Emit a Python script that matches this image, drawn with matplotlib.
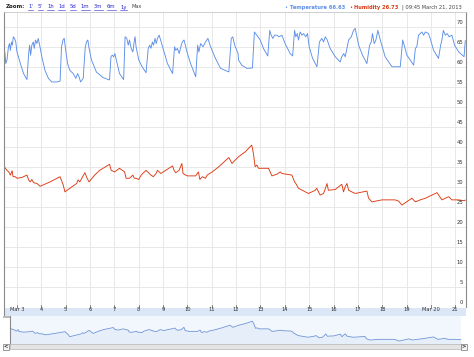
import matplotlib
matplotlib.use("Agg")
import matplotlib.pyplot as plt
from matplotlib.patches import Rectangle
from matplotlib.transforms import blended_transform_factory

# x values are days counted from Mar 3 00:00
temp_days = [-0.57, -0.54, -0.50, -0.46, -0.41, -0.35, -0.31, -0.27, -0.23, -0.19, -0.15, -0.10, -0.05,
             0.00, 0.14, 0.27, 0.41, 0.48, 0.52, 0.56, 0.61, 0.67, 0.71, 0.76, 0.82, 0.87, 0.92,
             1.02, 1.15, 1.29, 1.43, 1.63, 1.77, 1.83, 1.89, 1.94, 2.00, 2.08, 2.17, 2.31, 2.42,
             2.49, 2.55, 2.61, 2.72, 2.80, 2.85, 2.91, 2.96, 3.06, 3.26, 3.53, 3.80, 3.86, 3.91,
             3.97, 4.02, 4.08, 4.21, 4.38, 4.44, 4.51, 4.57, 4.62, 4.69, 4.76, 4.81, 4.85, 4.89,
             5.00, 5.14, 5.30, 5.39, 5.45, 5.50, 5.56, 5.61, 5.67, 5.72, 5.77, 5.84, 5.98, 6.18,
             6.39, 6.47, 6.52, 6.59, 6.66, 6.73, 6.79, 6.86, 6.93, 7.00, 7.13, 7.34, 7.42, 7.47,
             7.54, 7.64, 7.74, 7.84, 7.95, 8.15, 8.36, 8.70, 8.80, 8.86, 8.94, 9.08,
             9.10, 9.23, 9.44, 9.67, 9.75, 9.85, 9.99, 10.12, 10.30, 10.38, 10.44, 10.51, 10.58,
             10.67, 10.77, 10.88, 11.01, 11.22, 11.32, 11.40, 11.45, 11.51, 11.56, 11.63, 11.70,
             11.77, 11.86, 11.93, 12.00, 12.14, 12.32, 12.42, 12.52, 12.59, 12.66, 12.74, 12.86,
             13.07, 13.27, 13.34, 13.42, 13.48, 13.62, 13.73, 13.82, 13.89, 14.03, 14.19, 14.37,
             14.48, 14.55, 14.60, 14.67, 14.74, 14.82, 14.92, 15.12, 15.40, 15.74, 15.84, 15.92,
             16.01, 16.15, 16.29, 16.36, 16.42, 16.49, 16.56, 16.63, 16.70, 16.77, 16.90, 16.97,
             17.11, 17.31, 17.40, 17.45, 17.51, 17.59, 17.67, 17.75, 17.86, 17.97, 18.14, 18.36, 18.41]
temp_vals = [59.2, 63.4, 63.8, 60.9, 61.8, 65.1, 65.9, 64.2, 66.3, 65.5, 67.6, 67.2, 66.3,
             63.8, 60.9, 58.4, 56.9, 63.4, 65.5, 63.0, 65.5, 66.3, 64.7, 66.8, 65.9, 67.2, 65.9,
             62.6, 59.2, 57.2, 56.3, 56.3, 56.5, 65.1, 66.8, 67.2, 64.2, 60.9, 59.2, 58.4, 57.2,
             58.4, 57.6, 56.3, 57.2, 64.7, 66.3, 66.8, 64.7, 61.8, 58.8, 57.4, 56.8, 62.6, 63.0,
             62.6, 63.4, 61.8, 58.4, 56.9, 67.6, 67.2, 65.5, 66.8, 64.7, 63.8, 66.3, 67.6, 65.1,
             61.8, 60.1, 58.6, 64.7, 65.5, 64.7, 66.3, 65.5, 67.2, 65.9, 67.2, 68.0, 65.1, 60.9,
             58.4, 65.1, 64.2, 64.7, 63.4, 65.1, 66.3, 66.8, 65.1, 63.4, 60.9, 57.6, 65.5, 63.8,
             65.9, 65.1, 66.3, 67.2, 65.1, 62.2, 59.7, 58.8, 67.2, 67.6, 65.5, 63.4,
             61.8, 60.5, 59.7, 59.8, 68.8, 68.0, 66.8, 64.7, 62.8, 69.2, 68.0, 67.2, 68.0,
             68.0, 67.6, 68.0, 65.9, 63.4, 62.8, 69.2, 67.6, 68.4, 66.8, 68.8, 68.0,
             68.4, 67.6, 68.4, 65.1, 62.2, 60.1, 66.3, 67.2, 66.3, 67.6, 66.8, 64.7,
             62.6, 61.3, 62.6, 63.4, 62.6, 66.8, 67.6, 69.2, 69.7, 65.5, 63.0, 60.9,
             65.5, 66.3, 68.4, 65.9, 66.8, 69.2, 66.8, 62.6, 60.1, 60.1, 66.8, 65.1,
             63.0, 61.8, 60.5, 64.7, 65.1, 68.0, 68.4, 68.8, 68.0, 68.8, 68.4, 67.2,
             64.2, 62.2, 65.5, 66.8, 69.2, 68.0, 68.4, 67.6, 68.0, 65.5, 63.8, 62.6, 66.63]

humid_days = [-0.54, -0.48, -0.41, -0.34, -0.27, -0.20, -0.16, -0.07, 0.00, 0.20, 0.41, 0.48, 0.54,
              0.61, 0.68, 0.82, 0.95, 1.36, 1.77, 1.90, 1.97, 2.17, 2.45, 2.51, 2.58, 2.79, 2.88,
              2.96, 3.19, 3.40, 3.67, 3.80, 3.87, 4.01, 4.21, 4.42, 4.48, 4.62, 4.76, 4.82, 4.89,
              5.00, 5.10, 5.30, 5.50, 5.60, 5.71, 5.77, 5.91, 6.11, 6.39, 6.45, 6.52, 6.66, 6.77,
              6.82, 6.93, 7.00, 7.34, 7.45, 7.51, 7.61, 7.74, 7.81, 8.02, 8.29, 8.70, 8.83, 8.97,
              9.10, 9.37, 9.64, 9.71, 9.78, 9.85, 9.92, 10.33, 10.47, 10.67, 10.81, 10.88, 11.29,
              11.40, 11.45, 11.56, 11.97, 12.25, 12.31, 12.45, 12.59, 12.69, 12.73, 12.79, 13.07,
              13.34, 13.41, 13.48, 13.55, 13.62, 13.75, 13.89, 14.37, 14.44, 14.58, 14.99, 15.53,
              15.67, 15.81, 15.95, 16.22, 16.36, 16.56, 16.77, 17.04, 17.25, 17.45, 17.73, 17.86,
              18.14, 18.36, 18.41]
humid_vals = [35.5, 34.7, 34.2, 33.8, 33.0, 34.1, 32.6, 32.6, 32.2, 32.4, 33.0, 31.8, 31.3,
              31.9, 31.1, 30.9, 30.2, 31.3, 32.6, 30.5, 28.8, 29.7, 30.9, 31.8, 31.3, 33.6, 32.2,
              31.3, 33.0, 34.2, 35.2, 35.7, 34.2, 33.8, 34.7, 33.8, 32.2, 32.2, 33.0, 32.2, 32.2,
              31.9, 33.0, 34.2, 33.0, 32.6, 33.4, 34.2, 33.4, 34.2, 35.3, 34.2, 33.6, 34.2, 35.9,
              33.4, 33.0, 32.8, 32.8, 33.8, 31.9, 32.6, 32.2, 33.0, 33.8, 35.1, 37.4, 35.9, 36.8,
              37.6, 38.8, 40.5, 38.4, 35.1, 35.5, 34.7, 34.7, 32.8, 33.2, 33.8, 33.4, 33.0,
              31.3, 30.9, 29.7, 28.4, 29.2, 29.7, 28.0, 28.4, 30.1, 30.9, 29.2, 29.4,
              30.7, 28.8, 30.1, 30.9, 29.2, 28.8, 28.4, 29.0, 27.2, 26.3, 26.8, 26.8,
              26.5, 25.5, 26.1, 27.2, 26.3, 26.8, 27.2, 28.0, 28.6, 26.8, 27.6, 26.8,
              26.8, 26.6, 26.73]

day_ticks = list(range(0, 19))
day_labels = ["Mar 3", "4", "5", "6", "7", "8", "9", "10", "11", "12", "13", "14", "15",
              "16", "17", "18", "19", "Mar 20", "21"]
y_ticks = list(range(0, 75, 5))
zoom_links = ["1'", "5'", "1h", "1d", "5d", "1m", "3m", "6m", "1y"]

TEMP_C = "#5c8fe8"
HUM_C = "#dc3912"
GRID_C = "#e8e8e8"
X0, X1 = -0.533, 18.44

W, H = 474, 357


def box(x0, y0, x1, y1):
    # pixel box (top-left origin) -> figure rect
    return [x0 / W, 1 - y1 / H, (x1 - x0) / W, (y1 - y0) / H]


fig = plt.figure(figsize=(W / 100, H / 100), dpi=100)
fig.patch.set_facecolor("white")

# main plot
ax = fig.add_axes(box(4, 12, 466, 307))
ax.plot(temp_days, temp_vals, color=TEMP_C, lw=0.65)
ax.plot(humid_days, humid_vals, color=HUM_C, lw=0.65)
ax.set_xlim(X0, X1)
ax.set_ylim(0, 73.8)
for d in day_ticks:
    ax.axvline(d, color=GRID_C, lw=0.7, zorder=0)
for v in y_ticks:
    ax.axhline(v, color=GRID_C, lw=0.7, zorder=0)
ax.set_xticks([])
ax.set_yticks([])
for side in ["left", "right"]:
    ax.spines[side].set_color("#8a8a8a")
    ax.spines[side].set_linewidth(0.8)
ax.spines["top"].set_color("#c8c8c8")
ax.spines["top"].set_linewidth(0.6)
ax.spines["bottom"].set_visible(False)
tr = blended_transform_factory(ax.transAxes, ax.transData)
for v in y_ticks:
    ax.text(0.994, v + 0.6, str(v), transform=tr, ha="right", va="bottom",
            fontsize=3.8, color="#333333")

# date band
band = fig.add_axes(box(4, 308, 466, 316))
band.set_facecolor("#dbe6f6")
band.set_xlim(X0, X1)
band.set_ylim(0, 1)
band.set_yticks([])
band.set_xticks(day_ticks)
band.set_xticklabels(day_labels)
band.tick_params(axis="x", direction="in", length=0, pad=-6.2, labelsize=3.7,
                 labelcolor="#333333")
for d in day_ticks:
    band.plot([d, d], [1.0, 1.4], color="#555555", lw=0.5, clip_on=False)
for side in ["top", "bottom", "right"]:
    band.spines[side].set_visible(False)
band.spines["left"].set_color("#8a8a8a")
band.spines["left"].set_linewidth(0.8)

# navigator
nav = fig.add_axes(box(10, 316, 461, 344))
nav.set_facecolor("#f2f7fd")
nav.plot(humid_days, humid_vals, color="#6f95d6", lw=0.6)
nav.fill_between(humid_days, humid_vals, 0, color="#e3ecf9", alpha=0.8, lw=0)
nav.set_xlim(humid_days[0], humid_days[-1])
nav.set_ylim(23.3, 44.4)
nav.set_xticks([])
nav.set_yticks([])
for side in ["top", "bottom", "right"]:
    nav.spines[side].set_visible(False)
nav.spines["left"].set_color("#8a8a8a")
nav.spines["left"].set_linewidth(0.8)

# ledge and scrollbar
fig.patches.append(Rectangle((3 / W, 1 - 318 / H), 7 / W, 2 / H, transform=fig.transFigure,
                             facecolor="#bbbbbb", edgecolor="none"))
fig.patches.append(Rectangle((10 / W, 1 - 349 / H), 451 / W, 5 / H, transform=fig.transFigure,
                             facecolor="#e4e4e4", edgecolor="#b5b5b5", lw=0.5))
for bx, sym in [(3, "<"), (461, ">")]:
    fig.patches.append(Rectangle((bx / W, 1 - 350 / H), 6 / W, 6 / H, transform=fig.transFigure,
                                 facecolor="#f4f4f4", edgecolor="#777777", lw=0.5))
    fig.text((bx + 3) / W, 1 - 347 / H, sym, ha="center", va="center", fontsize=3.8,
             fontweight="bold", color="#222222")

# header
ytxt = 1 - 7 / H
t = fig.text(6 / W, ytxt, "Zoom:", fontsize=4.0, fontweight="bold", color="#222222",
             va="center", ha="left")
fig.canvas.draw()
r = fig.canvas.get_renderer()
xpos = t.get_window_extent(r).x1 + 3
for lbl in zoom_links:
    tt = fig.text(xpos / W, ytxt, lbl, fontsize=3.8, color="#2a2ad0", va="center", ha="left")
    bb = tt.get_window_extent(r)
    fig.lines.append(plt.Line2D([bb.x0 / W, bb.x1 / W], [(bb.y0 - 0.3) / H] * 2,
                                transform=fig.transFigure, color="#2a2ad0", lw=0.4))
    xpos = bb.x1 + 4.5
fig.text(xpos / W, ytxt, "Max", fontsize=3.6, color="#444444", va="center", ha="left")

# right-hand legend, laid out from the right edge leftwards
parts = [("| 09:45 March 21, 2013", "#444444", 4.0), ("Humidity 26.73", HUM_C, 2.0),
         ("\u2022", HUM_C, 4.0), ("Temperature 66.63", TEMP_C, 2.0), ("\u2022", TEMP_C, 0)]
xr = 462
for s, c, gap in parts:
    tt = fig.text(xr / W, ytxt, s, fontsize=3.7, color=c, va="center", ha="right",
                  fontweight="bold" if s[0] in "TH" else "normal")
    bb = tt.get_window_extent(r)
    xr = bb.x0 - gap

fig.savefig("out.png", dpi=100)
